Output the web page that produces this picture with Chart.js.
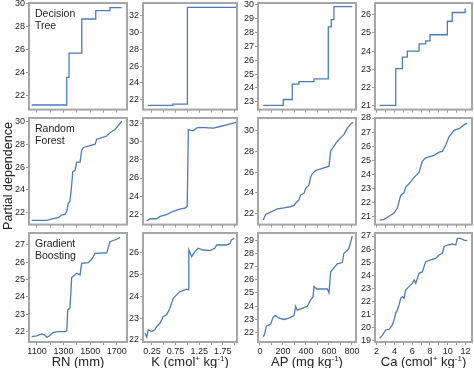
<!DOCTYPE html>
<html><head><meta charset="utf-8">
<script src="https://cdn.jsdelivr.net/npm/chart.js@4/dist/chart.umd.min.js"></script>
<style>
html,body{margin:0;padding:0;background:#fff;}
body{width:474px;height:368px;position:relative;overflow:hidden;font-family:"Liberation Sans",Arial,sans-serif;color:#222;}
canvas{position:absolute;}
.lbl{position:absolute;font-size:10.5px;line-height:12.5px;color:#222;white-space:nowrap;}
.xt{position:absolute;font-size:13px;line-height:15px;color:#222;text-align:center;white-space:nowrap;width:120px;}
.xt sup{font-size:8px;vertical-align:5px;line-height:0;}
.yt{position:absolute;font-size:12.5px;line-height:14px;color:#222;white-space:nowrap;transform:rotate(-90deg);transform-origin:center center;text-align:center;width:140px;}
</style></head><body>
<script>
// ---------- data ----------
// x tick marks and labelled ticks
const RN_TICKS = [1100,1200,1300,1400,1500,1600,1700];
const RN_LABELS = [1100,1300,1500,1700];
const K_TICKS = [0.25,0.5,0.75,1,1.25,1.5,1.75,2];
const K_LABELS = [0.25,0.75,1.25,1.75];
const AP_TICKS = [0,100,200,300,400,500,600,700,800];
const AP_LABELS = [0,200,400,600,800];
const CA_TICKS = [2,3,4,5,6,7,8,9,10,11,12];
const CA_LABELS = [2,4,6,8,10,12];

// y tick labels per panel
const Y_DT_RN = [22,24,26,28,30];
const Y_DT_K  = [22,24,26,28,30,32];
const Y_DT_AP = [23,24,25,26,27,28,29,30];
const Y_DT_CA = [21,22,23,24,25,26];
const Y_RF_RN = [22,24,26,28,30];
const Y_RF_K  = [22,24,26,28,30,32];
const Y_RF_AP = [22,24,26,28,30];
const Y_RF_CA = [21,22,23,24,25,26,27,28];
const Y_GB_RN = [22,23,24,25,26,27];
const Y_GB_K  = [22,23,24,25,26];
const Y_GB_AP = [22,23,24,25,26,27,28,29];
const Y_GB_CA = [19,20,21,22,23,24,25,26,27];

// Decision tree (step functions)
const DT_RN_X = [1060,1324,1341,1437,1542,1649,1737];
const DT_RN_Y = [21.19,23.59,25.69,28.66,29.39,29.64,29.64];
const DT_K_X = [0.16,0.69,1.0,2.03];
const DT_K_Y = [21.3,21.46,33.0,33.0];
const DT_AP_X = [29,203,281,339,470,594,620,643,803];
const DT_AP_Y = [22.74,23.16,24.27,24.46,24.65,28.42,28.94,29.88,29.88];
const DT_CA_X = [2.35,4.15,4.9,5.45,6.77,7.52,8.0,9.95,10.5,11.95,12.05];
const DT_CA_Y = [21.03,23.05,23.68,24.0,24.4,24.57,24.9,25.64,26.12,26.3,26.3];

// Random forest
const RF_RN_X = [1060,1173,1223,1261,1286,1311,1324,1336,1348,1361,1369,1386,1399,1424,1436,1449,1537,1549,1625,1649,1687,1737];
const RF_RN_Y = [21.28,21.28,21.42,21.51,21.77,21.8,22.09,22.81,22.96,24.41,25.57,25.71,26.43,26.43,27.45,27.74,28.03,28.46,28.75,29.04,29.33,30.06];
const RF_K_X = [0.14,0.21,0.35,0.42,0.56,0.70,0.84,0.95,0.996,1.02,1.12,1.19,1.26,1.55,1.69,1.83,1.97,2.03];
const RF_K_Y = [21.29,21.54,21.54,21.8,22.0,22.36,22.6,22.71,22.9,31.29,31.18,31.46,31.54,31.46,31.64,31.82,32.0,32.1];
const RF_AP_X = [29,49,107,151,209,252,296,310,339,354,383,397,426,441,455,484,528,600,615,643,672,701,730,759,788,809];
const RF_AP_Y = [21.37,21.9,22.22,22.44,22.54,22.63,22.79,23.0,23.32,23.8,23.95,24.43,24.74,25.53,25.84,26.16,26.31,26.57,28.05,28.52,28.99,29.31,29.62,30.25,30.63,30.82];
const RF_CA_X = [2.35,2.84,3.4,3.96,4.33,4.52,4.71,5.08,5.27,5.64,6.21,6.77,7.14,7.52,8.45,9.02,9.39,9.77,10.14,10.7,11.26,11.64,12.0,12.15];
const RF_CA_Y = [20.72,20.77,21.0,21.23,21.58,22.04,22.5,22.66,23.08,23.31,23.77,24.12,24.93,25.16,25.34,25.57,25.62,26.08,26.66,27.12,27.24,27.42,27.58,27.65];

// Gradient boosting
const GB_RN_X = [1060,1098,1135,1160,1173,1185,1223,1260,1311,1324,1331,1348,1361,1399,1424,1436,1486,1512,1537,1625,1649,1700,1725];
const GB_RN_Y = [21.71,21.75,21.87,21.8,21.67,21.71,21.95,22.0,22.0,22.05,23.25,23.35,25.12,25.37,25.27,25.94,25.98,26.17,26.52,26.55,27.19,27.33,27.44];
const GB_K_X = [0.10,0.14,0.17,0.24,0.31,0.35,0.42,0.49,0.56,0.63,0.70,0.77,0.84,0.91,0.98,1.02,1.03,1.09,1.16,1.23,1.33,1.48,1.58,1.62,1.83,1.90,1.93,1.99];
const GB_K_Y = [22.31,22.12,22.46,22.38,22.46,22.61,22.76,23.07,23.15,23.45,23.9,24.06,24.21,24.26,24.32,24.29,26.12,25.82,26.05,26.2,26.12,26.09,26.2,26.35,26.35,26.42,26.58,26.66];
const GB_AP_X = [29,41,55,78,93,116,136,165,209,252,296,310,325,383,412,441,461,470,493,586,600,615,643,672,716,730,759,774,803];
const GB_AP_Y = [21.7,21.9,22.5,22.6,22.65,23.2,23.3,23.1,23.0,23.1,23.3,24.0,23.7,23.9,24.0,24.5,24.7,25.5,25.3,25.3,25.0,26.6,26.9,27.2,27.3,28.0,28.2,28.4,29.3];
const GB_CA_X = [2.35,2.65,3.02,3.4,3.77,3.96,4.15,4.33,4.52,4.71,4.9,5.08,5.27,5.64,6.02,6.21,6.4,6.77,7.14,7.52,8.08,8.64,9.02,9.39,9.58,9.95,10.51,10.89,11.07,11.45,11.82,12.2];
const GB_CA_Y = [19.18,19.43,19.82,19.87,20.2,20.58,21.09,21.34,21.73,22.24,22.37,22.24,22.87,23.13,23.38,23.64,23.38,24.15,24.27,25.04,25.17,25.29,25.55,25.68,26.18,26.31,26.39,26.31,26.82,26.82,26.69,26.64];

const MODEL_NAMES = [["Decision","Tree"],["Random","Forest"],["Gradient","Boosting"]];
const X_TITLES = ["RN (mm)","K (cmol<sup>+</sup> kg<sup>-1</sup>)","AP (mg kg<sup>-1</sup>)","Ca (cmol<sup>+</sup> kg<sup>-1</sup>)"];
const Y_TITLE = "Partial dependence";

// ---------- layout ----------
const COL_L = [29,143,258,375], COL_R = [127,237,356,472];
const ROW_T = [3,118,233], ROW_B = [112,227,342];
const XAX = [
  {min:1040, max:1777, ticks:RN_TICKS, labels:RN_LABELS, fmt:v=>String(v)},
  {min:0.06, max:2.05, ticks:K_TICKS, labels:K_LABELS, fmt:v=>v.toFixed(2)},
  {min:-17, max:835, ticks:AP_TICKS, labels:AP_LABELS, fmt:v=>String(v)},
  {min:1.82, max:12.72, ticks:CA_TICKS, labels:CA_LABELS, fmt:v=>String(v)}
];
const PANELS = [
  [ {x:DT_RN_X,y:DT_RN_Y,yt:Y_DT_RN,ymin:20.79,ymax:30.05,st:true},
    {x:DT_K_X,y:DT_K_Y,yt:Y_DT_K,ymin:20.8,ymax:33.52,st:true},
    {x:DT_AP_X,y:DT_AP_Y,yt:Y_DT_AP,ymin:22.43,ymax:30.14,st:true},
    {x:DT_CA_X,y:DT_CA_Y,yt:Y_DT_CA,ymin:20.8,ymax:26.64,st:true} ],
  [ {x:RF_RN_X,y:RF_RN_Y,yt:Y_RF_RN,ymin:20.9,ymax:30.35},
    {x:RF_K_X,y:RF_K_Y,yt:Y_RF_K,ymin:20.9,ymax:32.57},
    {x:RF_AP_X,y:RF_AP_Y,yt:Y_RF_AP,ymin:20.93,ymax:31.23},
    {x:RF_CA_X,y:RF_CA_Y,yt:Y_RF_CA,ymin:20.4,ymax:28.0} ],
  [ {x:GB_RN_X,y:GB_RN_Y,yt:Y_GB_RN,ymin:21.4,ymax:27.69},
    {x:GB_K_X,y:GB_K_Y,yt:Y_GB_K,ymin:21.9,ymax:26.9},
    {x:GB_AP_X,y:GB_AP_Y,yt:Y_GB_AP,ymin:21.3,ymax:29.53},
    {x:GB_CA_X,y:GB_CA_Y,yt:Y_GB_CA,ymin:18.9,ymax:27.23} ]
];

const FONT = '"Liberation Sans", Arial, sans-serif';
const frame = { id:'frame', afterDatasetsDraw(chart){
  const {ctx, chartArea:a} = chart; ctx.save();
  ctx.strokeStyle = '#a6a6a6'; ctx.lineWidth = 2;
  ctx.strokeRect(a.left, a.top, a.right-a.left, a.bottom-a.top); ctx.restore(); } };

const P = 8, YW = 26;
PANELS.forEach((row, r) => row.forEach((pd, c) => {
  const xa = XAX[c];
  const XH = r === 2 ? 15 : 4;
  const L = COL_L[c], R = COL_R[c], T = ROW_T[r], B = ROW_B[r];
  const w = (R-L) + YW + P, h = (B-T) + P + XH;
  const cv = document.createElement('canvas');
  cv.width = w; cv.height = h;
  cv.style.left = (L-YW)+'px'; cv.style.top = (T-P)+'px';
  cv.style.width = w+'px'; cv.style.height = h+'px';
  document.body.appendChild(cv);
  new Chart(cv, {
    type:'line',
    data:{ datasets:[{ data: pd.x.map((v,i)=>({x:v, y:pd.y[i]})),
      borderColor:'#4a7db8', borderWidth:1.3, pointRadius:0, fill:false,
      stepped: pd.st ? 'before' : false, tension:0 }] },
    options:{
      responsive:false, animation:false, devicePixelRatio:1,
      layout:{ padding:{ top:P, right:P, left:0, bottom:0 } },
      plugins:{ legend:{display:false}, tooltip:{enabled:false} },
      scales:{
        x:{ type:'linear', min:xa.min, max:xa.max,
            border:{display:false},
            grid:{ drawOnChartArea:false, drawTicks:true, tickLength:3, color:'#9a9a9a' },
            afterBuildTicks: s => { s.ticks = xa.ticks.map(v=>({value:v})); },
            ticks:{ autoSkip:false, maxRotation:0, minRotation:0, padding:1, color:'#222',
              font:{ family:FONT, size:9 },
              callback: v => (r === 2 && xa.labels.some(l => Math.abs(l-v) < 1e-6)) ? xa.fmt(v) : '' },
            afterFit: s => { s.height = XH; } },
        y:{ type:'linear', min:pd.ymin, max:pd.ymax,
            border:{display:false},
            grid:{ drawOnChartArea:false, drawTicks:true, tickLength:3, color:'#9a9a9a' },
            afterBuildTicks: s => { s.ticks = pd.yt.map(v=>({value:v})); },
            ticks:{ autoSkip:false, padding:1, color:'#222', font:{ family:FONT, size:9 },
              callback: v => String(v) },
            afterFit: s => { s.width = YW; } }
      }
    },
    plugins:[frame]
  });
}));

// model names inside first column
MODEL_NAMES.forEach((nm, r) => {
  const d = document.createElement('div'); d.className = 'lbl';
  d.style.left = '35px'; d.style.top = (ROW_T[r] + 3.5) + 'px';
  d.innerHTML = nm[0] + '<br>' + nm[1];
  document.body.appendChild(d);
});
// x titles
X_TITLES.forEach((t, c) => {
  const d = document.createElement('div'); d.className = 'xt';
  d.style.left = ((COL_L[c]+COL_R[c])/2 - 60) + 'px'; d.style.top = '354px';
  d.innerHTML = t; document.body.appendChild(d);
});
// y title
const yd = document.createElement('div'); yd.className = 'yt';
yd.style.left = (8 - 70) + 'px'; yd.style.top = (176 - 7) + 'px';
yd.textContent = Y_TITLE; document.body.appendChild(yd);
</script>
</body></html>
